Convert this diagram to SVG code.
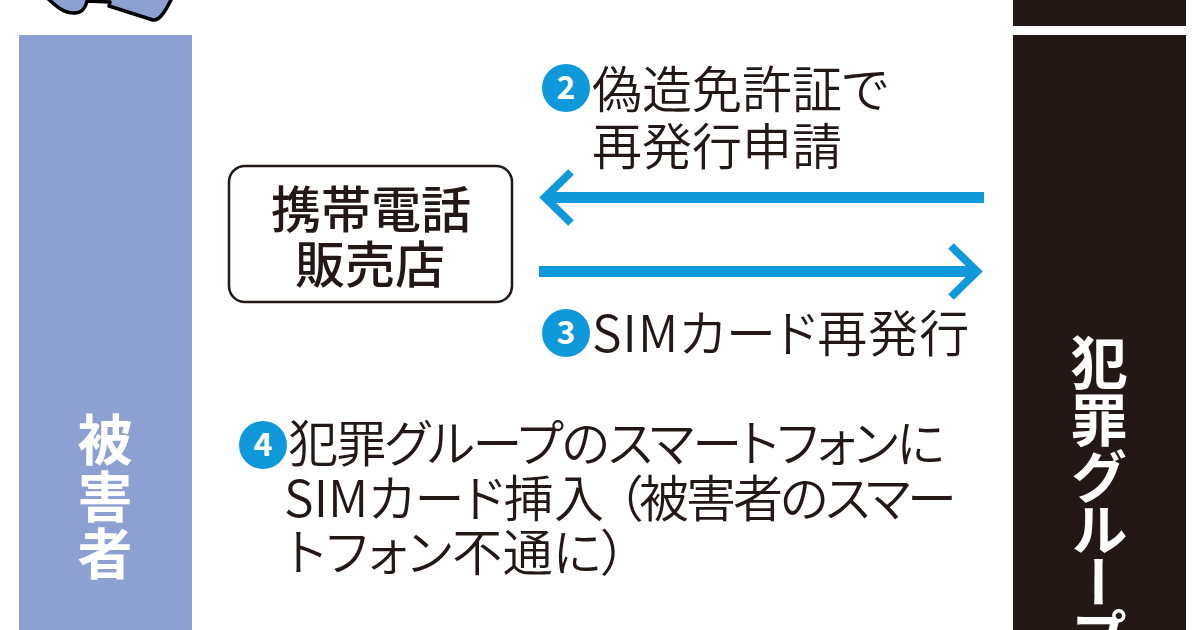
<svg xmlns="http://www.w3.org/2000/svg" width="1200" height="630" viewBox="0 0 1200 630">
<style>
.t{font-family:"Noto Sans CJK JP","Noto Sans",sans-serif;font-size:50px;fill:#231815;font-weight:350;font-feature-settings:"palt"}
.n{font-family:"Noto Sans CJK JP",sans-serif;font-size:32px;font-weight:700;fill:#fff;text-anchor:middle}
.h{font-family:"Noto Sans CJK JP",sans-serif;font-size:50px;font-weight:500;fill:#231815;text-anchor:middle}
.v{font-family:"Noto Sans CJK JP",sans-serif;font-weight:700;fill:#fff;writing-mode:vertical-rl;text-anchor:start}
.s{fill:none;stroke:#0f99da;stroke-width:11}
.a{fill:none;stroke:#0f99da;stroke-width:8;stroke-miterlimit:10}
.b{fill:#0f99da}
</style>
<rect width="1200" height="630" fill="#fff"/>
<g id="victim-figure">
<path d="M45 -4C54 4 62 13 74 13C82 13 86 7 87 1L110 2L109 6L153 20C160 21 166 10 173 -4Z" fill="#8e9fd2" stroke="#000" stroke-width="3.500" stroke-linejoin="round"/>
</g>
<g id="victim"><rect x="19" y="35" width="173" height="595" fill="#8e9fd2"/>
<text class="v" x="105" y="412" style="font-size:55px;letter-spacing:2px">被害者</text></g>
<g id="group"><rect x="1013" y="-2" width="173" height="28" fill="#231815"/><rect x="1013" y="35" width="173" height="597" fill="#231815"/>
<text class="v" x="1099" y="334" style="font-size:57px">犯罪<tspan style="letter-spacing:-4px">グループ</tspan></text></g>
<g id="shop"><rect x="229" y="166" width="283" height="136" rx="16" fill="#fff" stroke="#231815" stroke-width="2.500"/>
<text class="h" x="371" y="228">携帯電話<tspan x="370" y="283">販売店</tspan></text></g>
<g id="connectors">
<path class="s" d="M984 197.500H548"/><path class="a" d="M571 172L545 197.500L571 223"/>
<path class="s" d="M539 271.500H975"/><path class="a" d="M951 246L977 271.500L951 297"/>
</g>
<g id="step2"><circle class="b" cx="566" cy="88" r="24"/><text class="n" x="566" y="99">2</text>
<text class="t" x="592" y="108">偽造免許証で<tspan x="592" y="165">再発行申請</tspan></text></g>
<g id="step3"><circle class="b" cx="566" cy="333" r="24"/><text class="n" x="566" y="344">3</text>
<text class="t" x="592" y="352" style="letter-spacing:1px">SIMカード再発行</text></g>
<g id="step4"><circle class="b" cx="263" cy="445" r="24"/><text class="n" x="263" y="456">4</text>
<text class="t" x="288" y="462" style="letter-spacing:-1.800px">犯罪グループのスマートフォンに<tspan x="284" y="517" style="letter-spacing:.1px">SIMカード挿入</tspan><tspan dx="13" style="letter-spacing:-3px">（被害者のスマー</tspan><tspan x="287" y="571" style="letter-spacing:.4px">トフォン不通に）</tspan></text></g>
</svg>
